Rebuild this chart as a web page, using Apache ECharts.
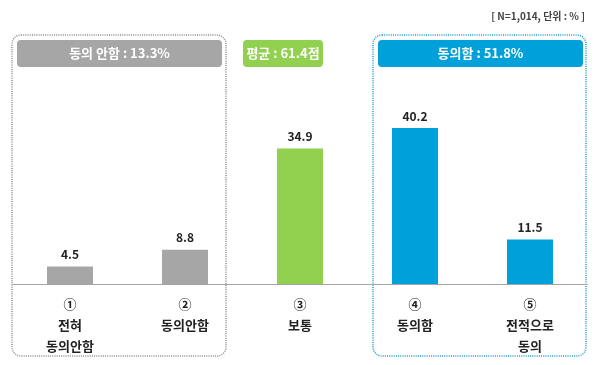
<!DOCTYPE html>
<html><head><meta charset="utf-8">
<script src="https://cdn.jsdelivr.net/npm/echarts@6/dist/echarts.min.js"></script>
<style>html,body{margin:0;padding:0;background:#fff}#c{width:600px;height:365px}</style>
</head><body><div id="c"></div>
<script>
const categories = ['①\n전혀\n동의안함', '②\n동의안함', '③\n보통', '④\n동의함', '⑤\n전적으로\n동의'];
const values = [4.5, 8.8, 34.9, 40.2, 11.5];
const barColors = ['#A6A6A6', '#A6A6A6', '#92D050', '#00A0DA', '#00A0DA'];
const groupLabels = ['동의 안함 : 13.3%', '평균 : 61.4점', '동의함 : 51.8%'];
const noteText = '[ N=1,014, 단위 : % ]';

const FONT = '"Noto Sans CJK KR", "Noto Sans", sans-serif';
const chart = echarts.init(document.getElementById('c'), null, {renderer: 'canvas'});
chart.setOption({
  animation: false,
  grid: {left: 12.5, right: 12.5, top: 90, bottom: 81, containLabel: false},
  xAxis: {
    type: 'category', data: categories,
    axisLine: {lineStyle: {color: '#A6A6A6', width: 1}},
    axisTick: {show: false},
    axisLabel: {color: '#222', fontFamily: FONT, fontWeight: 'bold', fontSize: 13, lineHeight: 21, margin: 10, interval: 0}
  },
  yAxis: {type: 'value', min: 0, max: 50, show: false, splitLine: {show: false}},
  series: [{
    type: 'bar', barWidth: 46,
    data: values.map((v, i) => ({value: v, itemStyle: {color: barColors[i]}})),
    label: {show: true, position: 'top', distance: 6, color: '#222', fontFamily: FONT, fontWeight: 'bold', fontSize: 12,
      formatter: p => p.value.toFixed(1)}
  }],
  graphic: [
    {type: 'rect', shape: {x: 12, y: 35, width: 214, height: 321, r: 9}, style: {fill: null, stroke: '#8C8C8C', lineWidth: 1.5, lineDash: [1, 1.2]}},
    {type: 'rect', shape: {x: 373, y: 35, width: 213, height: 321, r: 9}, style: {fill: null, stroke: '#1E9BD0', lineWidth: 1.5, lineDash: [1, 1.2]}},
    {type: 'rect', shape: {x: 17, y: 40, width: 205, height: 27, r: 4}, style: {fill: '#A6A6A6'}},
    {type: 'rect', shape: {x: 243, y: 40, width: 80, height: 27, r: 4}, style: {fill: '#92D050'}},
    {type: 'rect', shape: {x: 378, y: 40, width: 205, height: 27, r: 4}, style: {fill: '#00A0DA'}},
    {type: 'text', x: 119.5, y: 53.5, style: {text: groupLabels[0], fill: '#fff', font: 'bold 13px ' + FONT, align: 'center', verticalAlign: 'middle'}},
    {type: 'text', x: 283, y: 53.5, style: {text: groupLabels[1], fill: '#fff', font: 'bold 13px ' + FONT, align: 'center', verticalAlign: 'middle'}},
    {type: 'text', x: 480.5, y: 53.5, style: {text: groupLabels[2], fill: '#fff', font: 'bold 13px ' + FONT, align: 'center', verticalAlign: 'middle'}},
    {type: 'text', x: 585, y: 16, style: {text: noteText, fill: '#444', font: 'bold 10px ' + FONT, align: 'right', verticalAlign: 'middle'}}
  ]
});
</script></body></html>
